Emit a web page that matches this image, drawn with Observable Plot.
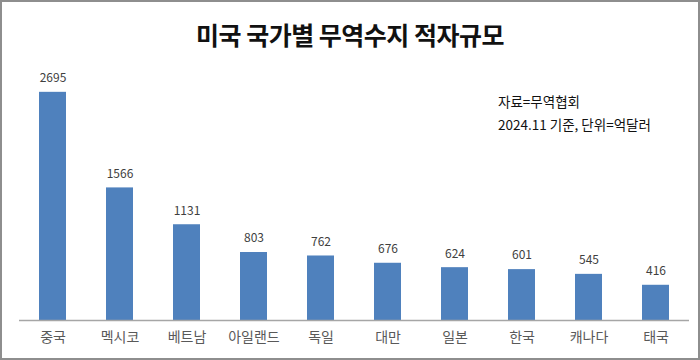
<!DOCTYPE html>
<html><head><meta charset="utf-8">
<script src="https://cdn.jsdelivr.net/npm/d3@7"></script>
<script src="https://cdn.jsdelivr.net/npm/@observablehq/plot@0.6"></script>
<style>
body{margin:0;background:#fff;font-family:"Noto Sans CJK KR","Noto Sans",sans-serif;}
#wrap{position:relative;width:700px;height:360px;overflow:hidden;}
#frame{position:absolute;left:0;top:0;width:700px;height:360px;box-sizing:border-box;border:2px solid #8e8e8e;pointer-events:none;}
#title{position:absolute;left:0;top:17px;width:700px;text-align:center;font-size:25px;font-weight:bold;line-height:34px;color:#111;letter-spacing:-0.5px;}
.note{position:absolute;left:498px;font-size:13.5px;line-height:20px;color:#111;}
#chart{position:absolute;left:0;top:0;}
</style></head><body>
<div id="wrap">
<div id="chart"></div>
<div id="title">미국 국가별 무역수지 적자규모</div>
<div class="note" style="top:91px">자료=무역협회</div>
<div class="note" style="top:114px">2024.11 기준, 단위=억달러</div>
<div id="frame"></div>
</div>
<script>
const countries = ["중국","멕시코","베트남","아일랜드","독일","대만","일본","한국","캐나다","태국"];
const deficits = [2695,1566,1131,803,762,676,624,601,545,416];
const data = countries.map((c,i)=>({country:c, value:deficits[i]}));

const chart = Plot.plot({
  width:700, height:360,
  marginLeft:19, marginRight:11, marginTop:66, marginBottom:40,
  style:{fontFamily:'"Noto Sans CJK KR","Noto Sans",sans-serif', background:"transparent"},
  x:{domain:countries, paddingInner:0.6, paddingOuter:0.3, label:null, tickSize:0, tickPadding:12},
  y:{domain:[0,3000], axis:null},
  marks:[
    Plot.barY(data,{x:"country", y:"value", fill:"#4f81bd"}),
    Plot.ruleY([0],{stroke:"#a6a6a6", strokeWidth:1.3}),
    Plot.text(data,{x:"country", y:"value", text:d=>String(d.value), dy:-14, fontSize:12, fill:"#404040"}),
    Plot.axisX({tickSize:0, tickPadding:12, fontSize:14, color:"#595959", label:null})
  ]
});
document.getElementById("chart").appendChild(chart);
</script>
</body></html>
